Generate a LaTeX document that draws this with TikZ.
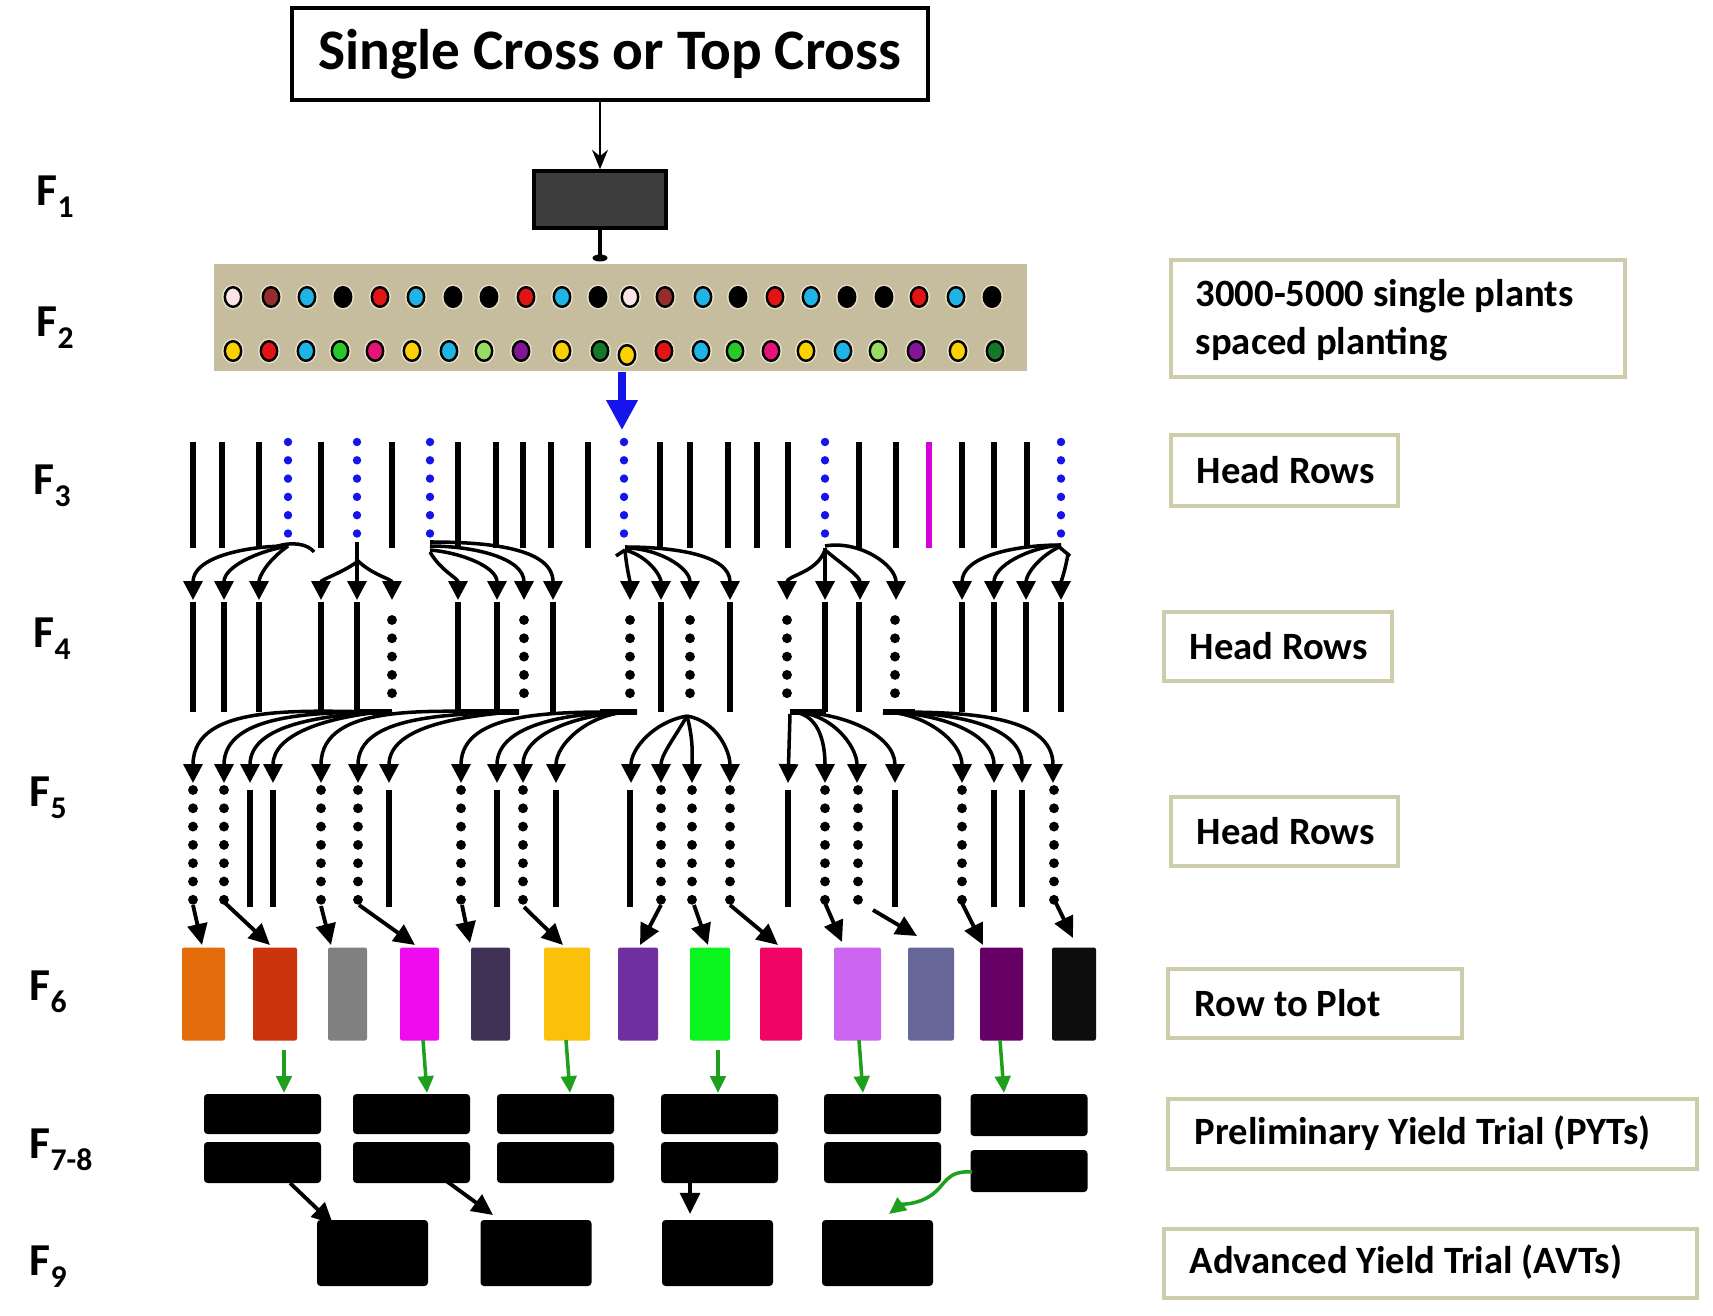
\documentclass[tikz,border=0pt]{standalone}
\usepackage{fontspec}
\setmainfont{Carlito}
\usetikzlibrary{arrows.meta}
\definecolor{paneltan}{RGB}{197,189,157}
\definecolor{halo}{RGB}{232,226,198}
\definecolor{lblborder}{RGB}{205,205,172}
\definecolor{garrow}{RGB}{30,160,30}
\definecolor{rowblue}{RGB}{20,20,235}
\definecolor{rowmag}{RGB}{215,0,215}
\definecolor{f1gray}{RGB}{62,62,62}
% dot colours
\definecolor{dpw}{RGB}{250,228,232}
\definecolor{dbr}{RGB}{150,45,45}
\definecolor{dcy}{RGB}{30,180,230}
\definecolor{dbk}{RGB}{0,0,0}
\definecolor{drd}{RGB}{228,20,20}
\definecolor{dye}{RGB}{250,210,0}
\definecolor{dgr}{RGB}{40,200,40}
\definecolor{ddp}{RGB}{230,20,120}
\definecolor{dlg}{RGB}{150,220,100}
\definecolor{dpu}{RGB}{130,20,150}
\definecolor{ddg}{RGB}{20,120,40}
% plot colours
\definecolor{pa}{RGB}{228,108,10}
\definecolor{pb}{RGB}{204,52,14}
\definecolor{pc}{RGB}{128,128,128}
\definecolor{pd}{RGB}{240,10,240}
\definecolor{pe}{RGB}{64,50,84}
\definecolor{pf}{RGB}{250,192,10}
\definecolor{pg}{RGB}{112,48,160}
\definecolor{ph}{RGB}{10,245,30}
\definecolor{pi}{RGB}{240,5,100}
\definecolor{pj}{RGB}{204,102,240}
\definecolor{pk}{RGB}{102,102,153}
\definecolor{pl}{RGB}{102,0,102}
\definecolor{pm}{RGB}{13,13,13}
\newcommand{\genlab}[1]{F\raisebox{-0.55ex}{\fontsize{9}{9}\selectfont #1}}
\begin{document}
\begin{tikzpicture}[x=0.1mm,y=0.1mm,
  every node/.style={font=\bfseries},
  srow/.style={line width=1.5pt},
  drow/.style={line width=2.8pt,line cap=round,dash pattern=on 0pt off 1.83mm},
  brow/.style={drow,rowblue,line width=2.4pt},
  arr/.style={line width=1pt,-{Triangle[width=5.4pt,length=5.4pt]}},
  parr/.style={line width=1.1pt,-{Triangle[width=5.6pt,length=6pt]}},
  garr/.style={garrow,line width=1pt,-{Triangle[width=4.4pt,length=4.8pt]}},
  lbl/.style={draw=lblborder,line width=0.9pt,fill=white,inner sep=0pt},
  ltxt/.style={font=\fontsize{11}{13.5}\selectfont\bfseries,anchor=west,inner sep=0pt,align=left},
  plotbox/.style={rounded corners=0.6pt,inner sep=0pt,minimum height=9.3mm},
  trial/.style={fill=black,rounded corners=1pt,inner sep=0pt,minimum width=11.7mm,minimum height=4mm},
  adv/.style={fill=black,rounded corners=1pt,inner sep=0pt,minimum width=11.1mm,minimum height=6.6mm},
  gen/.style={font=\fontsize{13}{13}\selectfont\bfseries,anchor=west,inner sep=0pt}
]
\useasboundingbox[fill=white] (0,0) rectangle (1713,-1316);

% ---------- title and F1 ----------
\node[draw,line width=1pt,minimum width=63.6mm,minimum height=9.2mm,inner sep=0pt,
      font=\fontsize{16.3}{16.3}\selectfont\bfseries] (title) at (610,-54) {Single Cross or Top Cross};
\node[draw,line width=1pt,fill=f1gray,minimum width=13.2mm,minimum height=5.7mm,inner sep=0pt] (f1) at (600,-199.5) {};
\draw[line width=0.8pt,-{Stealth[width=4.5pt,length=5.5pt]}] (f1.north |- title.south) -- (f1.north);

% ---------- F2 panel ----------
\node[fill=paneltan,minimum width=81.3mm,minimum height=10.7mm,inner sep=0pt] (panel) at (620.5,-317.5) {};
\coordinate (tee) at (600,-258);
\draw[line width=1pt] (f1.south) -- (tee);
\fill (tee) ellipse (0.75mm and 0.35mm);
\foreach \x/\c in {233/dpw,271/dbr,307/dcy,343/dbk,380/drd,416/dcy,453/dbk,489/dbk,526/drd,562/dcy,598/dbk,
                   630/dpw,665/dbr,703/dcy,738/dbk,775/drd,811/dcy,847/dbk,884/dbk,919/drd,956/dcy,992/dbk}{
  \fill[halo] (\x,-297) ellipse (1.1mm and 1.25mm);
  \filldraw[fill=\c,draw=black,line width=0.7pt] (\x,-297) ellipse (0.82mm and 0.98mm);
}
\foreach \x/\y/\c in {233/351/dye,269/351/drd,306/351/dcy,340/351/dgr,375/351/ddp,412/351/dye,449/351/dcy,
                   484/351/dlg,521/351/dpu,562/351/dye,600/351/ddg,627/355/dye,664/351/drd,701/351/dcy,
                   735/351/dgr,771/351/ddp,806/351/dye,843/351/dcy,878/351/dlg,916/351/dpu,958/351/dye,995/351/ddg}{
  \fill[halo] (\x,-\y) ellipse (1.1mm and 1.25mm);
  \filldraw[fill=\c,draw=black,line width=0.7pt] (\x,-\y) ellipse (0.82mm and 0.98mm);
}
\coordinate (bluetip) at (622,-430);
\draw[rowblue,line width=2pt,-{Triangle[width=8.5pt,length=8.5pt]}] (panel.south -| bluetip) -- (bluetip);

% ---------- F3 ----------
\foreach \x in {193,222,259,321,392,458,496,523,551,588,660,690,728,757,788,859,896,962,994,1027}
  \draw[srow] (\x,-442) -- (\x,-548);
\foreach \x in {288,357,430,624,825,1061}
  \draw[brow] (\x,-442) -- (\x,-534);
\draw[srow,rowmag] (929,-442) -- (929,-548);

% F3 -> F4 arrows
\draw[line width=1pt] (275,-547) .. controls (292,-541) and (308,-544) .. (314,-552);
\draw[arr] (288,-546) to[out=180,in=90] (193,-600);
\draw[arr] (288,-546) to[out=190,in=90] (224,-600);
\draw[arr] (288,-546) to[out=215,in=90] (259,-600);
\draw[arr] (357,-542) -- (357,-600);
\draw[arr] (357,-562) to[out=215,in=90] (321,-600);
\draw[arr] (357,-560) to[out=-45,in=90] (392,-600);
\draw[arr] (430,-552) to[out=-60,in=90] (458,-600);
\draw[arr] (430,-550) to[out=-5,in=90] (497,-600);
\draw[arr] (430,-546) to[out=0,in=90] (524,-600);
\draw[arr] (430,-542) to[out=0,in=90] (553,-600);
\draw[line width=1pt] (625,-550) -- (616,-556);
\draw[arr] (625,-550) to[out=-85,in=90] (630,-600);
\draw[arr] (625,-550) to[out=-15,in=90] (661,-600);
\draw[arr] (625,-548) to[out=0,in=90] (690,-600);
\draw[arr] (625,-547) to[out=0,in=90] (730,-600);
\draw[arr] (825,-550) to[out=-110,in=90] (787,-600);
\draw[arr] (825,-548) -- (825,-600);
\draw[arr] (825,-550) to[out=-40,in=90] (860,-600);
\draw[arr] (825,-546) to[out=10,in=90] (896,-600);
\draw[arr] (1061,-545) to[out=180,in=90] (962,-600);
\draw[arr] (1061,-545) to[out=185,in=90] (994,-600);
\draw[arr] (1061,-546) to[out=205,in=90] (1026,-600);
\draw[line width=1pt] (1058,-546) -- (1070,-556);
\draw[arr] (1068,-554) to[out=-100,in=90] (1061,-600);

% ---------- F4 ----------
\foreach \x in {193,224,259,321,357,458,497,553,661,730,825,859,962,994,1026,1061}
  \draw[srow] (\x,-602) -- (\x,-712);
\foreach \x in {392,524,630,690,787,895}
  \draw[drow] (\x,-620) -- (\x,-694);

% F4 -> F5 arrows
\draw[line width=1.5pt] (357,-712) -- (392,-712);
\draw[arr] (392,-712) to[out=180,in=90] (193,-783);
\draw[arr] (388,-712) to[out=180,in=90] (224,-783);
\draw[arr] (384,-712) to[out=183,in=90] (250,-783);
\draw[arr] (380,-712) to[out=186,in=90] (273,-783);
\draw[line width=1.5pt] (459,-712) -- (519,-712);
\draw[arr] (519,-712) to[out=180,in=90] (321,-783);
\draw[arr] (515,-712) to[out=182,in=90] (358,-783);
\draw[arr] (511,-712) to[out=185,in=90] (389,-783);
\draw[line width=1.5pt] (600,-712) -- (637,-712);
\draw[arr] (637,-712) to[out=180,in=90] (461,-783);
\draw[arr] (634,-712) to[out=180,in=90] (497,-783);
\draw[arr] (630,-712) to[out=182,in=90] (523,-783);
\draw[arr] (626,-712) to[out=185,in=90] (556,-783);
\draw[arr] (687,-716) to[out=190,in=90] (631,-783);
\draw[arr] (687,-716) to[out=240,in=90] (661,-783);
\draw[arr] (687,-716) to[out=-75,in=90] (692,-783);
\draw[arr] (687,-716) to[out=-10,in=90] (730,-783);
\draw[line width=1.5pt] (790,-712) -- (826,-712);
\draw[arr] (790,-714) -- (788,-783);
\draw[arr] (793,-712) to[out=-5,in=90] (825,-783);
\draw[arr] (793,-712) to[out=0,in=90] (857,-783);
\draw[arr] (793,-712) to[out=0,in=90] (895,-783);
\draw[line width=1.5pt] (883,-712) -- (915,-712);
\draw[arr] (883,-712) to[out=0,in=90] (962,-783);
\draw[arr] (883,-712) to[out=0,in=90] (994,-783);
\draw[arr] (886,-712) to[out=0,in=90] (1022,-783);
\draw[arr] (890,-712) to[out=0,in=90] (1053,-783);

% ---------- F5 ----------
\foreach \x in {250,273,389,497,556,630,788,895,994,1022}
  \draw[srow] (\x,-790) -- (\x,-907);
\foreach \x in {193,224,321,358,461,523,661,692,730,825,858,962,1054}
  \draw[drow] (\x,-790) -- (\x,-901);

% ---------- F6 plots ----------
\foreach \n/\xa/\xb/\c in {1/182/225/pa,2/253/297/pb,3/328/367/pc,4/400/439/pd,5/471/510/pe,6/544/590/pf,
                          7/618/658/pg,8/690/730/ph,9/760/802/pi,10/834/881/pj,11/908/954/pk,12/980/1023/pl,13/1052/1096/pm}
  \node[plotbox,fill=\c,minimum width={(\xb-\xa)*0.1mm}] (r\n) at ({(\xa+\xb)/2},-994) {};

% F5 -> F6 arrows
\draw[parr] (193,-905) -- (202,-945);
\draw[parr] (224,-902) -- (270,-945);
\draw[parr] (321,-906) -- (331,-945);
\draw[parr] (359,-905) -- (415,-945);
\draw[parr] (462,-905) -- (470,-943);
\draw[parr] (524,-907) -- (563,-945);
\draw[parr] (661,-905) -- (640,-945);
\draw[parr] (694,-905) -- (708,-945);
\draw[parr] (730,-905) -- (778,-945);
\draw[parr] (825,-903) -- (842,-942);
\draw[parr] (873,-910) -- (917,-936);
\draw[parr] (962,-903) -- (983,-945);
\draw[parr] (1053,-897) -- (1073,-938);

% ---------- F7-8 PYTs ----------
\foreach \n/\x in {1/262.5,2/411.5,3/555.5,4/719.5,5/882.5}{
  \node[trial] (pa\n) at (\x,-1114) {};
  \node[trial,minimum height=4.1mm] (pb\n) at (\x,-1162.5) {};
}
\node[trial,minimum height=4.2mm] (pa6) at (1029,-1115) {};
\node[trial,minimum height=4.2mm] (pb6) at (1029,-1171) {};

\draw[garr] (284,-1050) -- (284,-1093);
\draw[garr] (423,-1040) -- (427,-1093);
\draw[garr] (566,-1040) -- (570,-1093);
\draw[garr] (718,-1050) -- (718,-1093);
\draw[garr] (859,-1040) -- (863,-1093);
\draw[garr] (1000,-1040) -- (1004,-1093);

% ---------- F9 AVTs ----------
\foreach \n/\x in {1/372.5,2/536,3/717.5,4/877.5}
  \node[adv] (av\n) at (\x,-1253) {};

\draw[parr] (290,-1183) -- (333,-1224);
\draw[parr] (445,-1180) -- (493,-1215);
\draw[parr] (690,-1183) -- (690,-1214);
\draw[garr] (972,-1172) .. controls (945,-1170) and (946,-1186) .. (930,-1196) .. controls (916,-1205) and (902,-1204) .. (889,-1214);

% ---------- generation labels ----------
\node[gen] (g1) at (36,-197) {\genlab{1}};
\node[gen] (g2) at (36,-328) {\genlab{2}};
\node[gen] (g3) at (33,-486) {\genlab{3}};
\node[gen] (g4) at (33,-639) {\genlab{4}};
\node[gen] (g5) at (29,-798) {\genlab{5}};
\node[gen] (g6) at (29,-992) {\genlab{6}};
\node[gen] (g78) at (29,-1150) {\genlab{7-8}};
\node[gen] (g9) at (29,-1267) {\genlab{9}};

% ---------- right-hand labels ----------
\node[lbl,minimum width=45.4mm,minimum height=11.7mm] (l1) at (1398,-318.5) {};
\node[ltxt] (t1) at (1195,-320) {3000-5000 single plants\\spaced planting};
\node[lbl,minimum width=22.7mm,minimum height=7.1mm] (l2) at (1284.5,-470.5) {};
\node[ltxt] (t2) at (1196,-470) {Head Rows};
\node[lbl,minimum width=22.8mm,minimum height=6.9mm] (l3) at (1278,-646.5) {};
\node[ltxt] (t3) at (1189,-646) {Head Rows};
\node[lbl,minimum width=22.7mm,minimum height=6.9mm] (l4) at (1284.5,-831.5) {};
\node[ltxt] (t4) at (1196,-831) {Head Rows};
\node[lbl,minimum width=29.4mm,minimum height=6.9mm] (l5) at (1315,-1003.5) {};
\node[ltxt] (t5) at (1194,-1003) {Row to Plot};
\node[lbl,minimum width=52.9mm,minimum height=7mm] (l6) at (1432.5,-1134) {};
\node[ltxt] (t6) at (1194,-1133) {Preliminary Yield Trial (PYTs)};
\node[lbl,minimum width=53.3mm,minimum height=6.9mm] (l7) at (1430.5,-1263.5) {};
\node[ltxt] (t7) at (1189,-1262) {Advanced Yield Trial (AVTs)};
\end{tikzpicture}
\end{document}
